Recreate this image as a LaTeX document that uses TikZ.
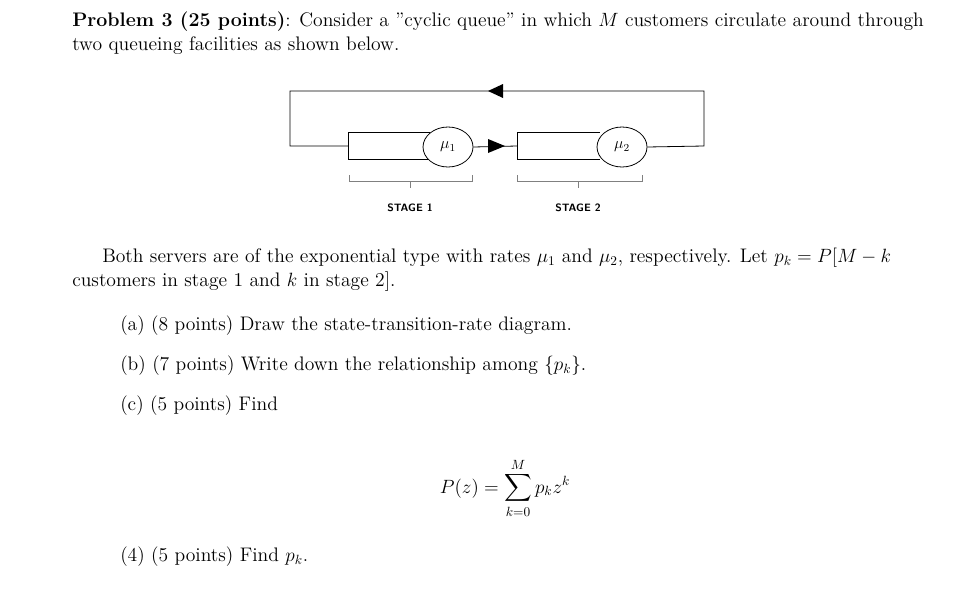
\documentclass[tikz,border=0pt]{standalone}
\usepackage{amsmath}
\usepackage{fontspec}
\usetikzlibrary{shapes.geometric}
\begin{document}
\begin{tikzpicture}[x=0.75pt,y=-0.75pt,
  txt/.style={anchor=west,inner sep=0pt,font=\fontsize{14.7}{17}\selectfont},
  ln/.style={line width=0.6pt},
  srv/.style={draw,ellipse,line width=0.6pt,minimum width=37.5pt,minimum height=30pt,inner sep=0pt,fill=white,font=\fontsize{12}{14}\selectfont},
  tri/.style={fill=black},
  brk/.style={draw=gray,line width=0.5pt},
  stg/.style={font=\sffamily\bfseries\fontsize{8}{9}\selectfont,inner sep=0pt}]
\useasboundingbox (0,0) rectangle (969,589);
% text
\node[txt] (t1) at (72,22) {\textbf{Problem 3 (25 points)}: Consider a ''cyclic queue'' in which $M$ customers circulate around through};
\node[txt] (t2) at (72,46) {two queueing facilities as shown below.};
\node[txt] (b1) at (102,258) {Both servers are of the exponential type with rates $\mu_1$ and $\mu_2$, respectively. Let $p_k = P[M-k$};
\node[txt] (b2) at (72,282) {customers in stage 1 and $k$ in stage 2].};
\node[txt] (qa) at (120,326) {(a) (8 points) Draw the state-transition-rate diagram.};
\node[txt] (qb) at (120,366) {(b) (7 points) Write down the relationship among $\{p_k\}$.};
\node[txt] (qc) at (120,406) {(c) (5 points) Find};
\node[txt,anchor=center] (eq) at (505,488) {$\displaystyle P(z)=\sum_{k=0}^{M} p_k z^k$};
\node[txt] (qd) at (120,557) {(4) (5 points) Find $p_k$.};
% diagram
\draw[ln] (348,132) -- (430,132) (348,159) -- (430,159) (348,132) -- (348,159);
\draw[ln] (517,132) -- (600,132) (517,159) -- (600,159) (517,132) -- (517,159);
\node[srv] (s1) at (448,147) {$\mu_1$};
\node[srv] (s2) at (622,147) {$\mu_2$};
\coordinate (q1) at (348,146);
\coordinate (q2) at (517,146);
\draw[ln] (s1.east) -- (q2);
\draw[ln] (s2.east) -- (704,146) -- (704,91) -- (290,91) -- (290,146) -- (q1);
\fill[tri] (488,139) -- (505,146) -- (488,153) -- cycle;
\fill[tri] (503,84) -- (488,91) -- (503,98) -- cycle;
% brackets
\draw[brk] (349,175) -- (349,181) -- (472,181) -- (472,175) (410,181) -- (410,188);
\draw[brk] (517,175) -- (517,181) -- (642,181) -- (642,175) (578,181) -- (578,188);
\node[stg] (st1) at (410,208) {STAGE 1};
\node[stg] (st2) at (578,208) {STAGE 2};
\end{tikzpicture}
\end{document}
